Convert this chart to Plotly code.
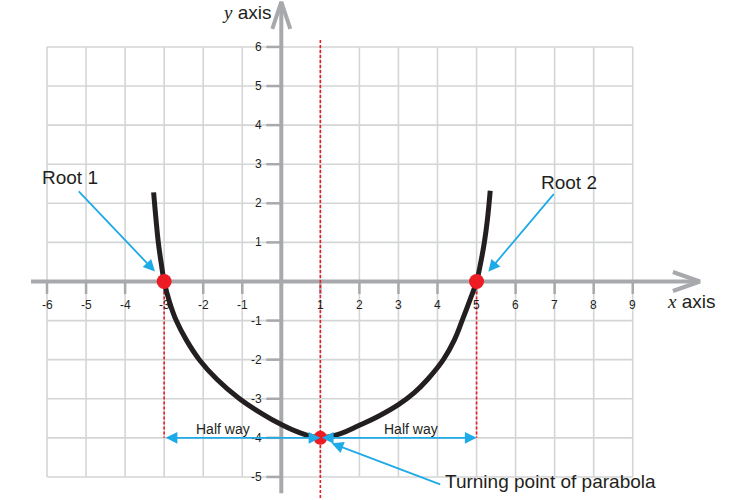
import plotly.graph_objects as go

# ---- data ----
grid_x = list(range(-6, 10))
grid_y = list(range(-5, 7))
x_tick_vals = [-6, -5, -4, -3, -2, -1, 1, 2, 3, 4, 5, 6, 7, 8, 9]
x_tick_text = [str(v) for v in x_tick_vals]
y_tick_vals = [6, 5, 4, 3, 2, 1, -1, -2, -3, -4, -5]
y_tick_text = [str(v) for v in y_tick_vals]

curve_x = [-3.27, -3.21, -3.15, -3.08, -3.00, -2.87, -2.69, -2.43, -2.10, -1.65, -1.07, -0.50, 0.00, 0.50,
           1.00,
           1.50, 2.00, 2.50, 3.00, 3.40, 3.75, 4.15, 4.43, 4.63, 4.82, 5.00, 5.11, 5.20, 5.28, 5.35]
curve_y = [2.28, 1.60, 1.00, 0.50, 0.00, -0.50, -1.00, -1.50, -2.00, -2.50, -3.00, -3.38, -3.66, -3.88,
           -4.00,
           -3.90, -3.68, -3.44, -3.15, -2.85, -2.50, -2.00, -1.50, -1.00, -0.50, 0.00, 0.50, 1.00, 1.60, 2.32]

roots_x = [-3, 5]
roots_y = [0, 0]
vertex_x = [1]
vertex_y = [-4]

RED = "#ed1c24"
BLUE = "#1eaae7"
GRAY = "#a7a9ac"
GRID = "#d4d5d6"
INK = "#231f20"
FONT = "Arial, Liberation Sans, sans-serif"

X0, X1 = -7.204, 12.003
Y0, Y1 = -5.590, 7.201
PX = 39.05  # px per x unit
PY = 39.09  # px per y unit

fig = go.Figure()

def seg_trace(xs, ys, color, width, dash=None):
    fig.add_trace(go.Scatter(x=xs, y=ys, mode="lines", hoverinfo="skip",
                             line=dict(color=color, width=width, dash=dash)))

# grid
gx, gy = [], []
for v in grid_x:
    gx += [v, v, None]
    gy += [grid_y[0], grid_y[-1], None]
for v in grid_y:
    gx += [grid_x[0], grid_x[-1], None]
    gy += [v, v, None]
seg_trace(gx, gy, GRID, 1.6)

# axes with open arrowheads
ax_len = 27 / PX
ax_half = 9.5 / PY
x_tip = 10.72
seg_trace([-6.41, x_tip], [0, 0], GRAY, 4)
seg_trace([x_tip - ax_len, x_tip, x_tip - ax_len], [ax_half, 0, -ax_half], GRAY, 4)
y_tip = 7.15
seg_trace([0, 0], [-5.42, y_tip], GRAY, 4)
seg_trace([-9 / PX, 0, 9 / PX], [y_tip - 27 / PY, y_tip, y_tip - 27 / PY], GRAY, 4)

# tick marks
tx, ty = [], []
for v in x_tick_vals:
    tx += [v, v, None]
    ty += [0, -12.5 / PY, None]
seg_trace(tx, ty, GRAY, 2.5)
tx, ty = [], []
for v in y_tick_vals:
    tx += [-15 / PX, 0, None]
    ty += [v, v, None]
seg_trace(tx, ty, GRAY, 2.5)

# red dashed guide lines
seg_trace([1, 1], [6.18, Y0], RED, 1.6, dash="3px,2px")
seg_trace([roots_x[0], roots_x[0]], [0, vertex_y[0]], RED, 1.6, dash="3px,2px")
seg_trace([roots_x[1], roots_x[1]], [0, vertex_y[0]], RED, 1.6, dash="3px,2px")

# curve
fig.add_trace(go.Scatter(x=curve_x, y=curve_y, mode="lines", hoverinfo="skip",
                         line=dict(color=INK, width=5, shape="spline", smoothing=1.2)))

# points
fig.add_trace(go.Scatter(x=roots_x, y=roots_y, mode="markers", hoverinfo="skip",
                         marker=dict(color=RED, size=15)))
fig.add_trace(go.Scatter(x=vertex_x, y=vertex_y, mode="markers", hoverinfo="skip",
                         marker=dict(color=RED, size=14)))

ann = []
# tick labels
for v, t in zip(x_tick_vals, x_tick_text):
    ann.append(dict(x=v, y=-23.5 / PY, text=t, showarrow=False, xanchor="center", yanchor="middle",
                    font=dict(family=FONT, size=12, color=INK)))
for v, t in zip(y_tick_vals, y_tick_text):
    ann.append(dict(x=-17 / PX, y=v, text=t, showarrow=False, xanchor="right", yanchor="middle",
                    font=dict(family=FONT, size=12, color=INK)))

# axis titles
ann.append(dict(x=10.50, y=-0.524, showarrow=False, xanchor="center", yanchor="middle",
                text="<span style='font-family:Liberation Serif; font-style:italic'>x</span> axis",
                font=dict(family=FONT, size=19, color=INK)))
ann.append(dict(x=-0.891, y=6.869, showarrow=False, xanchor="center", yanchor="middle",
                text="<span style='font-family:Liberation Serif; font-style:italic'>y</span> axis",
                font=dict(family=FONT, size=19, color=INK)))

# arrows
def arrow(hx, hy, tx_, ty_, side="end"):
    ann.append(dict(x=hx, y=hy, ax=tx_, ay=ty_, xref="x", yref="y", axref="x", ayref="y",
                    text="", showarrow=True, arrowhead=2, arrowsize=1.3, arrowwidth=1.8,
                    arrowcolor=BLUE, arrowside=side, startarrowhead=2, startarrowsize=1.3,
                    standoff=0, startstandoff=0))

arrow(-3.234, 0.256, -5.224, 2.341)
arrow(5.301, 0.251, 7.009, 2.272)
arrow(1.291, -4.139, 4.108, -5.206)
arrow(1, -4, -3, -4, side="end+start")
arrow(5, -4, 1, -4, side="end+start")

# labels
labels = [("Root 1", -5.41, 2.648, 19), ("Root 2", 7.38, 2.52, 19),
          ("Turning point of parabola", 6.90, -5.129, 19),
          ("Half way", -1.493, -3.773, 14), ("Half way", 3.319, -3.773, 14)]
for t, x, y, s in labels:
    ann.append(dict(x=x, y=y, text=t, showarrow=False, xanchor="center", yanchor="middle",
                    font=dict(family=FONT, size=s, color=INK)))

fig.update_layout(
    width=750, height=500, margin=dict(l=0, r=0, t=0, b=0),
    paper_bgcolor="white", plot_bgcolor="white", showlegend=False,
    xaxis=dict(range=[X0, X1], visible=False, fixedrange=True),
    yaxis=dict(range=[Y0, Y1], visible=False, fixedrange=True),
    annotations=ann,
)

fig.write_html("out.html", config={"displayModeBar": False},
               post_script="document.body.style.margin='0px';")
